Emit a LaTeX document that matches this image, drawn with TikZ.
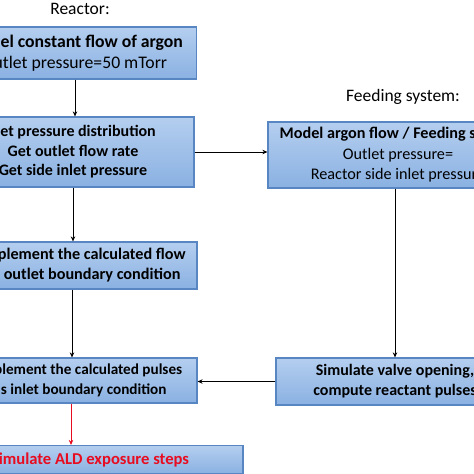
\documentclass[tikz,border=0pt]{standalone}
\usepackage{fontspec}
\setmainfont{Carlito}
\usetikzlibrary{arrows.meta, positioning}
\definecolor{boxtop}{RGB}{180,206,239}
\definecolor{boxbot}{RGB}{138,177,226}
\definecolor{boxline}{RGB}{88,134,194}
\definecolor{aldred}{RGB}{232,12,32}

\begin{document}
\begin{tikzpicture}[x=1pt, y=-1pt,
    stepbox/.style={rectangle, draw=boxline, line width=1.2pt, top color=boxtop, bottom color=boxbot, align=center, inner sep=2pt, font=\fontsize{16}{20}\selectfont},
    boldbox/.style={stepbox, font=\fontsize{16}{20}\selectfont\bfseries},
    heading/.style={font=\fontsize{17.5}{20}\selectfont},
    arrow/.style={line width=0.9pt, -{Stealth[length=5pt, width=4.5pt]}}
]
    \useasboundingbox (0,0) rectangle (474,474);
    \clip (0,0) rectangle (474,474);

    % reactor side
    \node[heading] (reactor) at (80,9) {Reactor:};
    \node[stepbox, minimum width=244pt, minimum height=52pt, font=\fontsize{17.7}{21.5}\selectfont] (argon) at (74.5,53) {\textbf{Model constant flow of argon}\\Outlet pressure=50 mTorr};
    \node[boldbox, minimum width=242pt, minimum height=70pt, font=\fontsize{16}{19.5}\selectfont\bfseries] (pressure) at (73,152) {Get pressure distribution\\Get outlet flow rate\\Get side inlet pressure};
    \node[boldbox, minimum width=228pt, minimum height=47pt, font=\fontsize{16.2}{20}\selectfont\bfseries] (flowbc) at (83,265.5) {Implement the calculated flow\\as outlet boundary condition};
    \node[boldbox, minimum width=234pt, minimum height=45pt, font=\fontsize{15.2}{19.5}\selectfont\bfseries] (pulsebc) at (80,380.5) {Implement the calculated pulses\\as inlet boundary condition};
    \node[boldbox, minimum width=306pt, minimum height=28pt, text=aldred, font=\fontsize{16.6}{20}\selectfont\bfseries] (ald) at (90,459.5) {Simulate ALD exposure steps};

    % feeding system side
    \node[heading] (feeding) at (403,97) {Feeding system:};
    \node[stepbox, minimum width=260pt, minimum height=66pt, font=\fontsize{16.2}{20.5}\selectfont] (feed) at (398,155) {\textbf{Model argon flow / Feeding system}\\Outlet pressure=\\Reactor side inlet pressure};
    \node[boldbox, minimum width=238pt, minimum height=47pt] (valve) at (395,381.5) {Simulate valve opening,\\compute reactant pulses};

    \draw[arrow] ([xshift=0.5pt]argon.south) -- ([xshift=0.5pt]argon.south |- pressure.north);
    \draw[arrow] (pressure.south) -- (pressure.south |- flowbc.north);
    \draw[arrow] ([xshift=-11pt]flowbc.south) -- ([xshift=-11pt]flowbc.south |- pulsebc.north);
    \draw[arrow, aldred] ([xshift=-9pt]pulsebc.south) -- ([xshift=-9pt]pulsebc.south |- ald.north);
    \draw[arrow] (pressure.east) -- (pressure.east -| feed.west);
    \draw[arrow] ([xshift=-3pt]feed.south) -- ([xshift=-3pt]feed.south |- valve.north);
    \draw[arrow] (valve.west) -- (valve.west -| pulsebc.east);
\end{tikzpicture}
\end{document}
